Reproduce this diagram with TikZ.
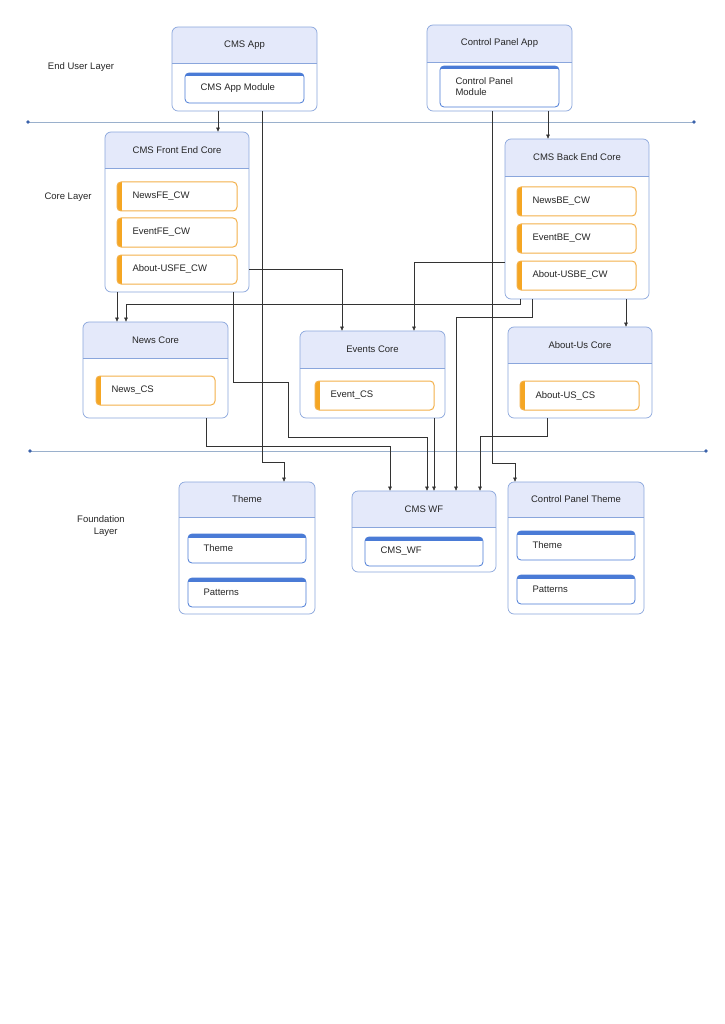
\documentclass[tikz,border=0pt]{standalone}
\usepackage{fontspec}
\setmainfont{Liberation Sans}
\usetikzlibrary{calc,arrows.meta}
\definecolor{hdr}{HTML}{E4E9FA}
\definecolor{bord}{HTML}{8AA6DC}
\definecolor{blu}{HTML}{4A7BD6}
\definecolor{org}{HTML}{F5A623}
\definecolor{orgb}{HTML}{F3B04A}
\definecolor{sep}{HTML}{9AB0CC}
\definecolor{wire}{HTML}{333333}
\tikzset{
  txt/.style={font=\fontsize{9.5}{11.5}\selectfont, text=black!85},
  wire/.style={draw=wire, line width=0.5pt, -{Triangle[length=4pt,width=3.5pt]}},
  box/.style={draw=bord, line width=0.7pt, rounded corners=6pt, inner sep=0pt},
}
\newcommand\ctr[7]{%
  \begin{scope}
  \clip[rounded corners=6pt] (#2,#3) rectangle (#4,#5);
  \fill[white] (#2,#3) rectangle (#4,#5);
  \fill[hdr] (#2,#3) rectangle (#4,#6);
  \end{scope}
  \draw[bord, line width=0.6pt] (#2,#6) -- (#4,#6);
  \node[box, minimum width={(#4-#2)*1pt}, minimum height={(#5-#3)*1pt}] (#1) at ({(#2+#4)/2},{(#3+#5)/2}) {};
  \node[txt] (#1-t) at ({(#2+#4)/2},{(#3+#6)/2}) {#7};
}
\newcommand\ibox[7]{% name x1 y1 x2 y2 text type(b/o)
  \begin{scope}
  \clip[rounded corners=4pt] (#2,#3) rectangle (#4,#5);
  \fill[white] (#2,#3) rectangle (#4,#5);
  \if#7b\fill[blu] (#2,#3) rectangle (#4,#3+3.5);\else\fill[org] (#2,#3) rectangle (#2+5,#5);\fi
  \end{scope}
  \if#7b
  \node[draw=blu, line width=0.8pt, rounded corners=4pt, inner sep=0pt, minimum width={(#4-#2)*1pt}, minimum height={(#5-#3)*1pt}] (#1) at ({(#2+#4)/2},{(#3+#5)/2}) {};
  \else
  \node[draw=orgb, line width=1pt, rounded corners=4pt, inner sep=0pt, minimum width={(#4-#2)*1pt}, minimum height={(#5-#3)*1pt}] (#1) at ({(#2+#4)/2},{(#3+#5)/2}) {};
  \fi
  \node[txt, anchor=west, align=left] (#1-t) at (#2+12,{(#3+#5)/2}) {#6};
}
\begin{document}
\begin{tikzpicture}[x=1pt,y=-1pt]
\useasboundingbox (0,0) rectangle (724,1024);
\fill[white] (0,0) rectangle (724,1024);
% separators
\coordinate (s1a) at (28,122); \coordinate (s1b) at (694,122);
\coordinate (s2a) at (30,451); \coordinate (s2b) at (706,451);
\draw[sep, line width=0.8pt] (s1a) -- (s1b);
\draw[sep, line width=0.8pt] (s2a) -- (s2b);
\foreach \p in {s1a,s1b,s2a,s2b} \fill[blu!80!black] (\p) circle (1.8);
% layer labels
\node[txt] (l1) at (81,67) {End User Layer};
\node[txt] (l2) at (68,197) {Core Layer};
\node[txt, align=center] (l3) at (101,526) {Foundation\\\quad Layer};
% containers
\ctr{app}{172}{27}{317}{111}{63}{CMS App}
\ibox{appm}{185}{73}{304}{103}{CMS App Module}{b}
\ctr{cpa}{427}{25}{572}{111}{62}{Control Panel App}
\ibox{cpam}{440}{66}{559}{107}{Control Panel\\Module}{b}
\ctr{fe}{105}{132}{249}{292}{168}{CMS Front End Core}
\ibox{nfe}{117}{182}{237}{211}{NewsFE\_CW}{o}
\ibox{efe}{117}{218}{237}{247}{EventFE\_CW}{o}
\ibox{afe}{117}{255}{237}{284}{About-USFE\_CW}{o}
\ctr{be}{505}{139}{649}{299}{176}{CMS Back End Core}
\ibox{nbe}{517}{187}{636}{216}{NewsBE\_CW}{o}
\ibox{ebe}{517}{224}{636}{253}{EventBE\_CW}{o}
\ibox{abe}{517}{261}{636}{290}{About-USBE\_CW}{o}
\ctr{news}{83}{322}{228}{418}{358}{News Core}
\ibox{ncs}{96}{376}{215}{405}{News\_CS}{o}
\ctr{ev}{300}{331}{445}{418}{368}{Events Core}
\ibox{ecs}{315}{381}{434}{410}{Event\_CS}{o}
\ctr{ab}{508}{327}{652}{418}{363}{About-Us Core}
\ibox{acs}{520}{381}{639}{410}{About-US\_CS}{o}
\ctr{th}{179}{482}{315}{614}{517}{Theme}
\ibox{tht}{188}{534}{306}{563}{Theme}{b}
\ibox{thp}{188}{578}{306}{607}{Patterns}{b}
\ctr{wf}{352}{491}{496}{572}{527}{CMS WF}
\ibox{wfi}{365}{537}{483}{566}{CMS\_WF}{b}
\ctr{cpt}{508}{482}{644}{614}{517}{Control Panel Theme}
\ibox{cptt}{517}{531}{635}{560}{Theme}{b}
\ibox{cptp}{517}{575}{635}{604}{Patterns}{b}
% connectors
\draw[wire] (218,0 |- app.south) -- (218,0 |- fe.north);
\draw[wire] (262,0 |- app.south) |- (284,462) -- (284,0 |- th.north);
\draw[wire] (548,0 |- cpa.south) -- (548,0 |- be.north);
\draw[wire] (492,0 |- cpa.south) |- (515,463) -- (515,0 |- cpt.north);
\draw[wire] (117,0 |- fe.south) -- (117,0 |- news.north);
\draw[wire] (520,0 |- be.south) |- (126,304) -- (126,0 |- news.north);
\draw[wire] (fe.east |- 0,269) -| (342,0 |- ev.north);
\draw[wire] (be.west |- 0,262) -| (414,0 |- ev.north);
\draw[wire] (626,0 |- be.south) -- (626,0 |- ab.north);
\draw[wire] (233,0 |- fe.south) |- (288,382) |- (427,437) -- (427,0 |- wf.north);
\draw[wire] (206,0 |- news.south) |- (390,446) -- (390,0 |- wf.north);
\draw[wire] (434,0 |- ev.south) -- (434,0 |- wf.north);
\draw[wire] (532,0 |- be.south) |- (456,317) -- (456,0 |- wf.north);
\draw[wire] (547,0 |- ab.south) |- (480,436) -- (480,0 |- wf.north);
\end{tikzpicture}
\end{document}
